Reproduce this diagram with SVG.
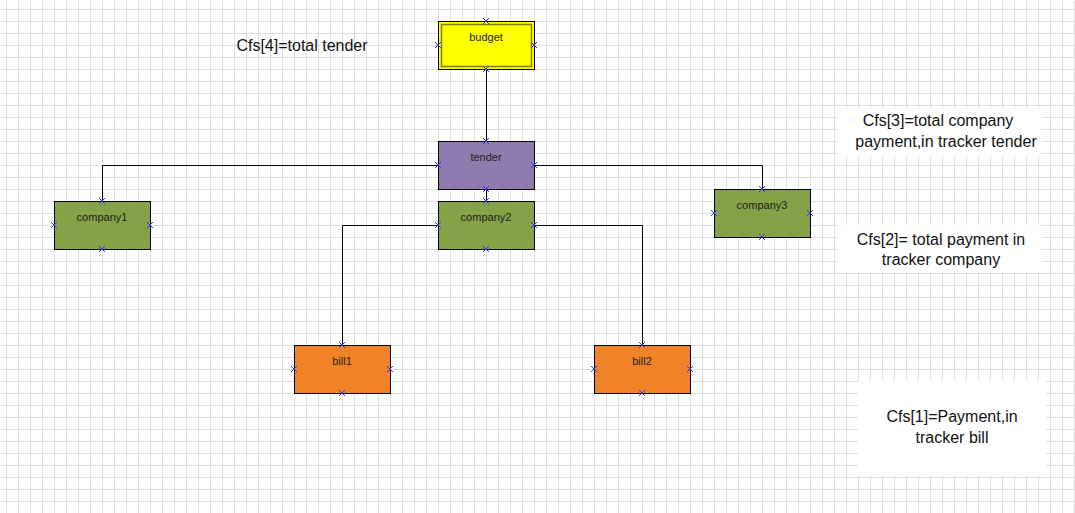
<svg xmlns="http://www.w3.org/2000/svg" width="1075" height="513" viewBox="0 0 1075 513">
<defs>
<pattern id="grid" x="6" y="9" width="12" height="12" patternUnits="userSpaceOnUse">
<path d="M0 0H12M0 0V12" stroke="#c0c0c0" stroke-width="1" fill="none"/>
</pattern>
<g id="x"><path d="M-3 -3L3 3M-3 3L3 -3" stroke="#3030ff" stroke-width="1"/></g>
</defs>
<style>
.n{stroke:#000;stroke-width:1}
.t{font-family:"Liberation Sans",Arial,sans-serif;font-size:11px;fill:#222;text-anchor:middle}
.a{font-family:"Liberation Sans",Arial,sans-serif;font-size:16px;fill:#111;text-anchor:middle}
.c{stroke:#000;stroke-width:1;fill:none}
</style>
<rect width="1075" height="513" fill="#fff"/>
<rect x="0.5" y="0.5" width="1075" height="513" fill="url(#grid)"/>
<g id="connectors">
<path class="c" d="M486.5 69V141"/>
<path class="c" d="M438 165.5H102.5V201"/>
<path class="c" d="M534 165.5H762.5V189"/>
<path class="c" d="M486.5 189V201"/>
<path class="c" d="M438 225.5H342.5V345"/>
<path class="c" d="M534 225.5H642.5V345"/>
</g>
<g id="budget"><rect class="n" x="438.5" y="21.5" width="96" height="48" fill="#ffff00"/><rect x="441.5" y="24.5" width="90" height="42" fill="none" stroke="#808000" stroke-width="1.5"/><text class="t" x="486" y="41">budget</text>
<use href="#x" x="486" y="21"/><use href="#x" x="486" y="69"/><use href="#x" x="438" y="45"/><use href="#x" x="534" y="45"/></g>
<g id="tender"><rect class="n" x="438.5" y="141.5" width="96" height="48" fill="#8f7bae"/><text class="t" x="486" y="161">tender</text>
<use href="#x" x="486" y="141"/><use href="#x" x="486" y="189"/><use href="#x" x="438" y="165"/><use href="#x" x="534" y="165"/></g>
<g id="company1"><rect class="n" x="54.5" y="201.5" width="96" height="48" fill="#84a246"/><text class="t" x="102" y="221">company1</text>
<use href="#x" x="102" y="201"/><use href="#x" x="102" y="249"/><use href="#x" x="54" y="225"/><use href="#x" x="150" y="225"/></g>
<g id="company2"><rect class="n" x="438.5" y="201.5" width="96" height="48" fill="#84a246"/><text class="t" x="486" y="221">company2</text>
<use href="#x" x="486" y="201"/><use href="#x" x="486" y="249"/><use href="#x" x="438" y="225"/><use href="#x" x="534" y="225"/></g>
<g id="company3"><rect class="n" x="714.5" y="189.5" width="96" height="48" fill="#84a246"/><text class="t" x="762" y="209">company3</text>
<use href="#x" x="762" y="189"/><use href="#x" x="762" y="237"/><use href="#x" x="714" y="213"/><use href="#x" x="810" y="213"/></g>
<g id="bill1"><rect class="n" x="294.5" y="345.5" width="96" height="48" fill="#f08228"/><text class="t" x="342" y="365">bill1</text>
<use href="#x" x="342" y="345"/><use href="#x" x="342" y="393"/><use href="#x" x="294" y="369"/><use href="#x" x="390" y="369"/></g>
<g id="bill2"><rect class="n" x="594.5" y="345.5" width="96" height="48" fill="#f08228"/><text class="t" x="642" y="365">bill2</text>
<use href="#x" x="642" y="345"/><use href="#x" x="642" y="393"/><use href="#x" x="594" y="369"/><use href="#x" x="690" y="369"/></g>
<g id="notes">
<text class="a" x="302" y="51">Cfs[4]=total tender</text>
<rect x="838" y="108" width="204" height="48" fill="#fff"/>
<text class="a" x="938" y="126">Cfs[3]=total company</text>
<text class="a" x="946" y="147">payment,in tracker tender</text>
<rect x="838" y="225" width="204" height="48" fill="#fff"/>
<text class="a" x="941" y="245">Cfs[2]= total payment in</text>
<text class="a" x="941" y="265">tracker company</text>
<rect x="858" y="381" width="188" height="95" fill="#fff"/>
<text class="a" x="952" y="422">Cfs[1]=Payment,in</text>
<text class="a" x="952" y="443">tracker bill</text>
</g>
</svg>
